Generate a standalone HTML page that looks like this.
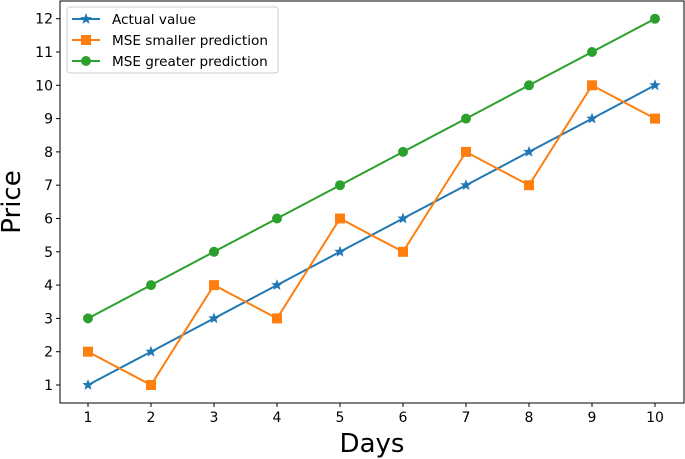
<!DOCTYPE html>
<html><head><meta charset="utf-8"><style>
body{margin:0;background:#fff;}
svg{display:block;font-family:"DejaVu Sans","Liberation Sans",sans-serif;}
</style></head><body>
<svg id="chart" width="685" height="459"></svg>
<script>
const days=[1,2,3,4,5,6,7,8,9,10];
const actual=[1,2,3,4,5,6,7,8,9,10];
const smaller=[2,1,4,3,6,5,8,7,10,9];
const greater=[3,4,5,6,7,8,9,10,11,12];
const yTicks=[1,2,3,4,5,6,7,8,9,10,11,12];
const NS="http://www.w3.org/2000/svg";
const svg=document.getElementById('chart');
const L=60,R=684,T=1,B=403;
function X(v){return 88+(v-1)*63;}
function Y(v){return 385-(v-1)*33.3;}
function el(t,a,p){const e=document.createElementNS(NS,t);for(const k in a)e.setAttribute(k,a[k]);(p||svg).appendChild(e);return e;}
const ax=el('rect',{x:L,y:T,width:R-L,height:B-T,fill:'none',stroke:'#000','stroke-width':1});


days.forEach(d=>{
 const t=el('line',{x1:X(d),x2:X(d),y1:B,y2:B+4,stroke:'#000'});
 
 
 const tx=el('text',{x:X(d),y:B+19,'text-anchor':'middle','font-size':14});tx.textContent=d;
 
 
});
yTicks.forEach(v=>{
 const t=el('line',{x1:L-4,x2:L,y1:Y(v),y2:Y(v),stroke:'#000'});
 
 
 const tx=el('text',{x:L-7,y:Y(v)+5,'text-anchor':'end','font-size':14});tx.textContent=v;
 
 
});
const xt=el('text',{x:372,y:452,'text-anchor':'middle','font-size':26});xt.textContent='Days';


const yt=el('text',{x:20,y:202,'text-anchor':'middle','font-size':26,transform:'rotate(-90 20 202)'});yt.textContent='Price';


function star(x,y,r){let p=[];for(let i=0;i<10;i++){const a=-Math.PI/2+i*Math.PI/5;const rr=i%2?r*0.42:r;p.push((x+rr*Math.cos(a)).toFixed(1)+','+(y+rr*Math.sin(a)).toFixed(1));}return p.join(' ');}
function marker(kind,x,y,c,g){
 if(kind==='star')return el('polygon',{points:star(x,y,6),fill:c},g);
 if(kind==='square')return el('rect',{x:x-5,y:y-5,width:10,height:10,fill:c},g);
 return el('circle',{cx:x,cy:y,r:5,fill:c},g);
}
const series=[[actual,'#1f77b4','star','actual-value-series'],[smaller,'#ff7f0e','square','mse-smaller-series'],[greater,'#2ca02c','circle','mse-greater-series']];
series.forEach(([vals,c,k,n])=>{
 const g=el('g',{});
 
 
 el('polyline',{points:vals.map((v,i)=>X(days[i])+','+Y(v)).join(' '),fill:'none',stroke:c,'stroke-width':2},g);
 vals.forEach((v,i)=>{const m=marker(k,X(days[i]),Y(v),c,g);
  
  });
});
const lg=el('g',{});


el('rect',{x:67,y:7,width:211,height:66,rx:3,fill:'#fff','fill-opacity':0.8,stroke:'#ccc'},lg);
[['Actual value','#1f77b4','star'],['MSE smaller prediction','#ff7f0e','square'],['MSE greater prediction','#2ca02c','circle']].forEach(([t,c,k],i)=>{
 const y=19+i*21;
 const e=el('g',{},lg);
 
 
 el('line',{x1:72,x2:100,y1:y,y2:y,stroke:c,'stroke-width':2},e);
 marker(k,86,y,c,e);
 const tx=el('text',{x:112,y:y+5,'font-size':13.6},e);tx.textContent=t;
});
</script>
</body></html>
